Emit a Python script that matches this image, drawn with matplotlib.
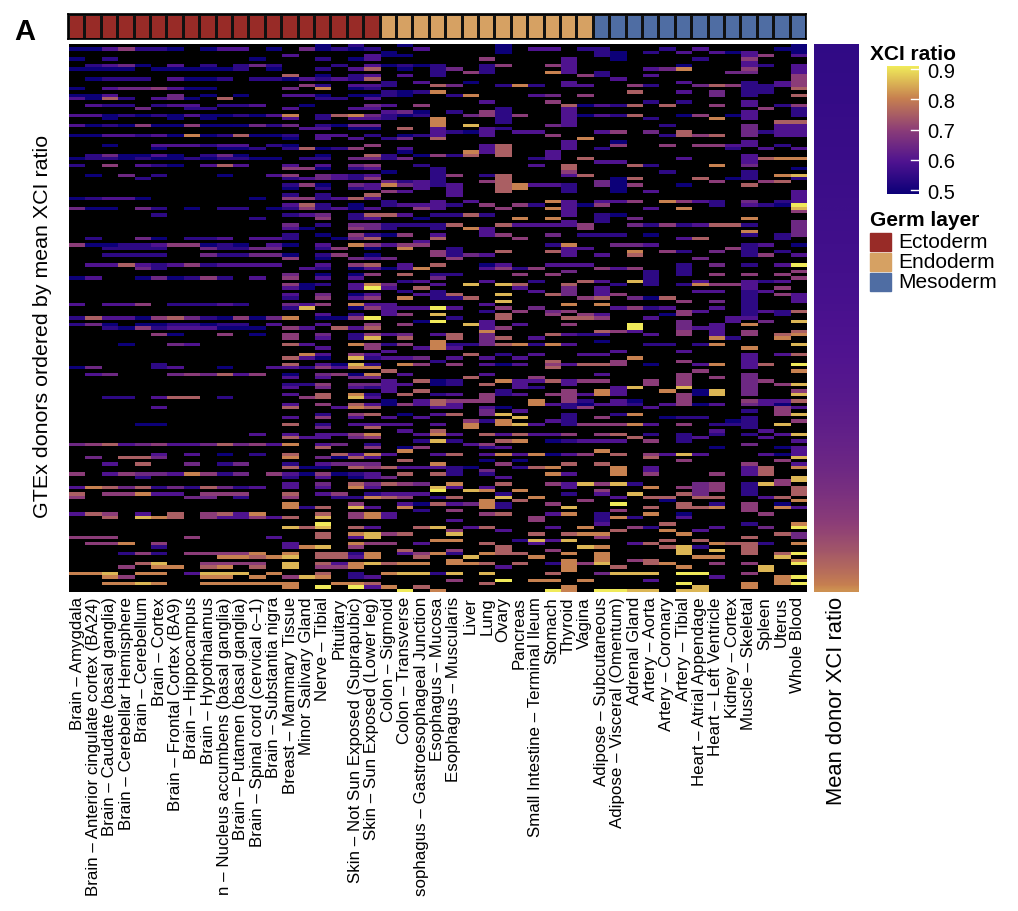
import matplotlib
matplotlib.use('Agg')
import matplotlib.pyplot as plt
from matplotlib.colors import LinearSegmentedColormap, ListedColormap
from matplotlib.patches import Rectangle
import numpy as np

plt.rcParams['font.family'] = ['Liberation Sans', 'DejaVu Sans']

# two labels are cut off on the left in the original panel, kept as they show there
tissues = ['Brain – Amygdala', 'Brain – Anterior cingulate cortex (BA24)',
           'Brain – Caudate (basal ganglia)', 'Brain – Cerebellar Hemisphere',
           'Brain – Cerebellum', 'Brain – Cortex', 'Brain – Frontal Cortex (BA9)',
           'Brain – Hippocampus', 'Brain – Hypothalamus',
           'n – Nucleus accumbens (basal ganglia)', 'Brain – Putamen (basal ganglia)',
           'Brain – Spinal cord (cervical c–1)', 'Brain – Substantia nigra',
           'Breast – Mammary Tissue', 'Minor Salivary Gland', 'Nerve – Tibial', 'Pituitary',
           'Skin – Not Sun Exposed (Suprapubic)', 'Skin – Sun Exposed (Lower leg)',
           'Colon – Sigmoid', 'Colon – Transverse', 'sophagus – Gastroesophageal Junction',
           'Esophagus – Mucosa', 'Esophagus – Muscularis', 'Liver', 'Lung', 'Ovary', 'Pancreas',
           'Small Intestine – Terminal Ileum', 'Stomach', 'Thyroid', 'Vagina',
           'Adipose – Subcutaneous', 'Adipose – Visceral (Omentum)', 'Adrenal Gland',
           'Artery – Aorta', 'Artery – Coronary', 'Artery – Tibial', 'Heart – Atrial Appendage',
           'Heart – Left Ventricle', 'Kidney – Cortex', 'Muscle – Skeletal', 'Spleen', 'Uterus',
           'Whole Blood']
germ_layer = [0] * 19 + [1] * 13 + [2] * 13
germ_names = ['Ectoderm', 'Endoderm', 'Mesoderm']
germ_colors = ['#982b27', '#d6a163', '#4f6da3']
ratio_ticks = [0.5, 0.6, 0.7, 0.8, 0.9]
n_donors = 220
n_rows = 165

# levels: . = no call, 1-9 = XCI ratio 0.50 ... 0.90
# ectoderm, one string per two donors: 13 brain tissues | 6 other tissues
ectoderm_bands = [
    "|..1.2.", "1135221.133.1|.41212", "|3....3", "1.2........1.|..2.13",
    ".2341.3.2.242|...2.3", "1111.111112.1|..2.36", "|6.1.23", ".1222.3112.22|132326",
    "|.52.33", "1.3445311....|4.7.12", "113...4.1.1..|331.11", "3162.341.6...|..22.3",
    ".322.233.223.|.1...4", "....4..22....|3...33", "3312121311213|7.2674", "..1...1.1....|3.2.33",
    "3121511511142|4.2144", "|.33.11", "1133231712611|2.33.2", "|1.3.3.",
    "..1..333233.2|1....5", ".....1...112.|26125.", ".241131.241..|..1..6", "1221211212211|.22.44",
    "2.5.321.363..|3.3.45", "|551.23", ".1.4.2...1..3|5.4323", "....2........|234325",
    "|251.43", "|1.2.23", "|2.2..6", "12331......1.|552363",
    "|362.1.", "411.42.1.22.1|252313", ".....2.......|234.26", "...........2.|..5.23",
    "|4.2.44", "|31..54", "|2.1.52", ".2..41.223.33|2..146",
    "51122355121.3|1.3.75", "..2222..42244|..25.1", "..2222..42244|1.25.1", "|5.1.43",
    ".336323523333|..3.56", "....42.......|.32.13", "|4.1.15", "13..141252.3.|5.3.3.",
    "|512.37", "|31..39", "|3.4.13", "|2.5.35",
    "3.335.22232..|435.73", "|28..15", "|..3.2.", "2633156421514|7.1159",
    "241.1122122.3|..3..5", "..2152333111.|53.636", ".....51..5.1.|5.4.25", "|5.3.28",
    "...1..43.....|63..75", "|..3..5", "|.73.53", "|631.82",
    ".....2.......|6.3182", "14...23..1..3|325377", ".34...454635.|1.4517", "|3.3.44",
    "|225.44", "|3.4.32", "|3.6.72", "..22.366.2...|.56.83",
    "|3.5.63", ".....3.......|6..376", "|..2.56", "|3.5.3.",
    "....11.......|6.2.33", "|..4..6", "...........3.|3.3357", "|633.45",
    "4563453346453|7.34.2", "|..6..5", ".....3.3.1.2.|6..637", ".4.664.......|7.4163",
    "..3.6..4.24..|2.3444", "|611.65", "5.354437524.5|315123", "....2........|2.3.13",
    "|3.4.64", "376462426423.|3.3.73", "6.55733.555..|6.35.2", "5......44.2..|5..227",
    "|7...5.", "|726.83", "365.3.6.5637.|..6.57", "..6.876.53353|6.8.57",
    "|..9...", "|868.63", "|..6.78", "555....5....3|..6.38",
    ".557.5.......|3...75", ".....2.......|378.5.", "...252.55557.|7.6627", ".........7767|8.6637",
    "....68..5555.|8.6378", "...5.77.67.6.|8.557.", "778.77.3888.7|..6.2.", "..75....77.7.|587.23",
    "..7787..77777|7..776", "|7.9.93",
]

# endoderm and mesoderm: donor rank (or first-last rank) : level
colon_sigmoid = ("3-5:1 9:1 15:2 17:2 19-21:2 25:3 27:3 29:2 30:2 38:2 45-46:2 51:1 55:4 57:7 59:5 63-65:2 "
                 "68:6 73-74:2 77:1 80:3 86:4 90:1 96:4 98:3 104:1 105-108:3 117:3 121:2 123:3 126:3 131:6 "
                 "135-139:3 143:1 145:1 150:3 153:3 164:1 165:3 170:6 174:4 176:6 180:3 182:6 188:3 190:3 "
                 "196:5 201:5 209:6 213:7 218:7")
colon_transverse = ("1:1 5:1 8:2 10:1 13:3 19-20:1 27:4 29:1 34:6 36:1 38:4 42:3 43:1 46:4 55:2 57:4 59:3 64:3 "
                    "68:3 72:2 77:5 80:5 82:7 88:3 90:3 92:6 95:2 99:2 102:7 106:3 108:5 112:5 116:4 118:6 "
                    "120:5 126:3 129:7 133:3 137:3 141:6 145:5 148:1 153:3 155:3 162:1 163:7 167:6 170:3 172:6 "
                    "176:5 180:3 182:5 185:3 186:7 197:6 203:6 205:3 209:7 213:8 219:9")
ge_junction = ("2:3 9:1 15:3 19:2 25:5 27:1 29:2 36:2 45:1 49:2 55:3 57-58:3 64:3 66:5 70:1 73:2 79:3 81:5 90:7 "
               "95:3 98:6 101:3 106:3 111:1 122:3 126:4 129:5 135:6 139:6 143:3 144:3 150:3 156:6 157:3 159:2 "
               "162:5 170:3 177:4 181:3 184:1 187:2 194:6 201:3 204:5 206:6 209:7 213:8 218:6")
eso_mucosa = ("9-12:2 17:6 19:7 30-32:7 34-36:3 38:6 44:5 50-56:2 63-66:3 68:2 72-74:2 76:3 78:6 83-85:5 89:6 "
              "92:2 94:4 97:3 99-102:2 106:9 109:8 111:9 117:3 119:7 121:7 122:7 127:2 135-137:1 141:2 143-144:6 "
              "146:3 149:3 153:3 155:6 157:7 159:8 164:3 168:7 170:3 172:6 178:8 179:9 182:2 184:6 194:8 199:7 "
              "205:7 212:2 219:7")
eso_muscularis = ("10:4 16:4 20:2 27:2 35:2 45:2 52:5 56-60:3 64:2 68:2 72:6 82-85:2 86:5 93:2 101:6 102:2 106:3 "
                  "110:2 117:6 118:6 120:2 122:3 126:3 129:5 135-137:2 141:3 143:5 144-146:3 149:6 156:3 159:2 "
                  "164:6 165:6 170-172:2 176:7 178:3 182:6 185:3 187:5 191:3 195:5 197:8 199:7 203:5 205:2 "
                  "207-209:7 213:8 215:5")
liver = ("11:5 15:1 21:7 28:4 32:8 35:1 43:7 45:6 63:3 68:6 74:7 84:4 96:8 102:6 113:8 121:2 124:6 134:6 143:5 "
         "151:5 152-154:7 161:3 170:1 179:8 184:4 194:3 206:8 208:7")
lung = ("6:5 9-11:2 23:3 27-29:5 34-36:3 41-43:3 53:2 55:5 65:5 69:2 74-76:3 84:3 89:1 90:3 95:3 104:3 107:2 "
        "111-114:3 115:7 117-121:4 126:3 129:3 132:3 136:6 140:5 142-143:5 146:3 147-149:4 151:2 156:6 161:5 "
        "162:2 164:3 167:1 171:4 173:2 178:3 179:7 183-186:7 189:5 194:6 201:6 204:7 208:6 212:8 216:6")
ovary = ("1-3:1 9:5 17:2 26-31:2 34:2 40-44:6 53-59:6 66:5 73:6 77:5 83:6 89:3 90:5 97:8 100:8 103:8 106:5 108:6 "
         "110:6 114:5 118:6 120:6 125:2 128:1 135:7 139:2 141:2 146:1 149:8 151-152:7 156:3 159:6 162:3 165:7 "
         "168:5 174:3 176:6 180:2 182:8 184-186:2 188:6 195:3 202-204:6 210:3 215:9")
pancreas = ("17:7 28:5 35:3 56-58:7 64:5 70:7 73:3 78:5 90:2 92:5 96:6 98:3 107:5 113:3 121:7 126:3 129:3 135-138:3 "
            "141:3 147:3 150:8 153:8 156-157:6 159:7 164:3 167:1 170:2 179:7 183:6 199:2 205:6 208:6")
small_intestine = ("2:3 16:2 20:3 35:3 46:2 49:3 56:5 57:3 65:2 73:3 90:5 95:2 99:3 106:4 118:3 121:2 125:3 134:5 "
                   "135:3 138:2 143-144:7 152:3 156:3 164:7 170:6 182:7 190-191:5 197:6 199:8 201:3 206:7 215:7")
stomach = ("2:3 9:5 11:7 20:4 23:5 33:4 36:5 43-46:3 57:3 63:7 66:7 70:7 72:3 76:4 80:2 83:6 89:3 92:5 100:6 107:4 "
           "109:5 116:6 121:7 127:6 129:5 130:6 135:6 141:5 145:3 151:3 157:3 159:1 165:1 170:7 172:7 176:5 184:5 "
           "189:3 194:3 199:3 203:5 209:2 213:6 215:7 219:9")
thyroid = ("6-11:3 15-17:3 25:6 26-32:3 39-42:3 48:6 50:6 51:5 53:3 56-59:2 63-68:3 71-73:3 80:7 82-84:3 89:3 91:4 "
           "97:6 98-101:4 105:7 107:5 110:6 113:5 117:3 120:3 128:3 135-137:3 139-143:5 145-146:2 148-152:2 156:5 "
           "159:2 164:3 168:6 172:3 176:3 178:3 181:2 186:8 188:7 197:6 199:8 204:7 207-211:7 218-219:7")
vagina = ("2:2 12:5 17:3 20:5 25:1 29:1 38:7 46:6 52:6 65:1 72:5 74:5 77:2 82:3 89:3 95:6 102:5 108:5 110:6 117:2 "
          "125:3 129:6 135:5 140:3 143:2 144:1 146:5 152:5 159:3 165:5 177:8 183:5 194:7 197:7 202:8 209:5 215:7")
adipose_sub = ("2-5:2 11-13:2 24:3 29:3 35:3 42:2 47:3 55-57:4 63:3 65:5 69-71:2 77:2 84:3 90:5 95:3 98-101:3 102:6 "
               "104:7 108:3 110:5 115:6 117:2 119:1 124:3 128:6 132:3 135:5 139-141:7 145:3 150:5 152:5 156:5 159:3 "
               "163:7 168:6 176:5 179:5 181:3 188-191:2 192:3 196:7 198:5 202:7 204-207:7 208:8 213:4 219:9")
adipose_visc = ("3-6:1 14:3 24:2 29:2 35:5 39:1 41:5 47:3 54-59:1 63:3 68:1 76:2 80:4 90:3 96:2 101:5 106:3 115:5 123:3 "
                "127-129:5 138-140:3 143-144:3 148:2 152:5 157:6 159:3 165:6 170-172:7 173:7 177:8 182:3 184:9 187:5 "
                "190:7 195:6 210:6 213:8 219:9")
adrenal = ("17:5 19:6 25:6 29:6 49:6 54:6 56:5 63:5 70:4 72:4 80:4 83:7 85:6 90:5 95:8 102:4 106:5 112-114:9 115:3 "
           "126:7 138:8 143:1 144:2 149:7 153:7 158:6 176:2 180:8 190:2 194:5 200:3 207:5 212:8 219:8")
aorta = ("3:2 10:3 13:3 16:2 23:2 30:2 35:4 49:2 59:3 66:3 73:2 77:1 81:3 91-96:2 102:1 106:2 110:3 116:3 121:2 129:1 "
         "135:5 137:5 146:3 152:3 156:2 159:5 164:5 166:6 170-172:3 173:5 178:7 182:6 186:6 189:7 194:2 201:6 "
         "207-209:6 213:8 215:3 219:8")
coronary = ("2:2 10:4 24:6 33:2 37:2 40:5 51:2 63:7 73:5 83:5 102:6 106:3 108:1 120:2 139:7 144:3 150:1 165:3 182:6 "
            "183:1 193:6 195:7 199:6 202:6 208:8 209:7")
tibial_artery = ("3:3 8:1 10:7 15:3 19:3 23:2 29:1 35:6 37:6 46:3 57:1 63:5 66:7 72:2 78:3 83:2 89-92:2 96:2 103:5 "
                 "107-109:5 111-114:4 115-117:5 123:3 127:5 133-136:5 138:8 140-143:5 145:5 150:2 152:5 156-159:2 "
                 "164:8 167:5 178:5 181:6 184:6 186:6 188:1 190:3 197:7 202-204:8 205:8 210:7 212:9 216:9 219:8")
atrial = ("2:3 6:2 16:4 29:5 36:5 40:5 54:6 63:3 72:3 78:6 86:4 95:3 96:7 99:3 107:3 114:3 120:2 128:3 131:5 "
          "139-141:1 144:1 150:2 158:3 164:3 176-180:4 182:6 186:6 195:3 199:6 202:2 206:7 213:9 218-219:8")
ventricle = ("3:3 16:6 19-21:4 25:5 30:7 36:6 41:5 49:7 55:5 63:2 65:2 72:6 83:4 89:4 92:5 96:5 99:3 103:4 106:3 "
             "113-117:3 118:7 121:7 128:7 134:5 139:8 141:8 144:3 152:2 155:3 157:2 162:1 172:3 173:5 176-179:5 "
             "182:6 184:2 186:7 194:3 201:7 203:8 206:7 209:5 214:3")
kidney = "3:1 11:4 16:5 28:1 41:3 42:2 54:1 73:6 82:5 96:5 110-111:3 118:2 151:1 153:2 201:6"
muscle = ("3-5:3 6:5 7-9:3 10:5 11:4 15-21:2 23-25:3 27-30:3 33-37:4 39-41:3 45-47:3 48-49:4 51-54:2 57:6 63:4 65:3 "
          "70:7 73:2 75:7 77:2 81-85:2 89:2 92-93:5 95-98:3 99-103:2 105-109:2 110:3 112:7 115:5 117:5 122:7 125-130:3 "
          "132-141:4 143:5 144:4 147:2 150-154:2 156:2 160:4 168:5 170-173:3 176-180:2 184-187:5 192:2 198:6 200-205:6 "
          "208:5 213:5 216:7 218:7")
spleen = ("5:5 9:2 17-19:2 26:5 35:2 42:3 46:6 55:5 64:2 80:3 85:5 95:2 99:3 107:3 111:4 128:6 135:5 143:3 144:3 155:3 "
          "158:3 164:3 170-172:6 177:8 182:3 189:5 194:4 201:2 210-211:8")
uterus = ("2:1 15-17:3 24:2 31:6 33-36:3 41:2 46:7 52:7 55:6 63:2 65:1 76-78:2 83:2 89:3 93:5 95:3 98:5 100:5 107-109:2 "
          "116:6 118:7 125:3 137:5 143:3 144:1 146-148:5 152:8 156:3 162:1 165:1 167:5 175-177:5 182:6 185:1 186:7 "
          "196:6 204:6 206:8 214-216:7")
whole_blood = ("0-3:1 5:3 9-11:3 13-16:5 18:6 20:6 24:5 26-28:2 31:6 33-36:3 42:3 46:7 50:1 52:8 54:2 59-63:3 65:9 66:8 "
               "67:5 71-76:4 80:1 85:3 89:9 91:5 94:5 100-103:3 107:6 111:8 115:6 117:7 121:8 124:6 128:9 131:7 136:8 "
               "139:5 140:8 143:6 146:3 149:8 151:5 157:8 159:3 162-164:3 166:8 168:3 170:7 174-175:8 178-180:6 183:7 "
               "186:3 192:7 194:9 196-198:4 201:7 204:3 205:9 207:7 209:9 214:9 217:9")
later_tissues = [colon_sigmoid, colon_transverse, ge_junction, eso_mucosa, eso_muscularis, liver, lung, ovary, pancreas,
                 small_intestine, stomach, thyroid, vagina, adipose_sub, adipose_visc, adrenal, aorta, coronary,
                 tibial_artery, atrial, ventricle, kidney, muscle, spleen, uterus, whole_blood]

mean_xci = [0.555, 0.556, 0.557, 0.558, 0.558, 0.559, 0.560, 0.560, 0.561, 0.561,
            0.562, 0.562, 0.563, 0.564, 0.564, 0.565, 0.565, 0.566, 0.566, 0.567,
            0.567, 0.568, 0.568, 0.569, 0.570, 0.570, 0.571, 0.571, 0.572, 0.573,
            0.573, 0.574, 0.575, 0.575, 0.576, 0.577, 0.577, 0.578, 0.579, 0.579,
            0.580, 0.581, 0.582, 0.582, 0.583, 0.584, 0.585, 0.586, 0.587, 0.588,
            0.589, 0.590, 0.591, 0.592, 0.593, 0.594, 0.595, 0.596, 0.597, 0.598,
            0.600, 0.601, 0.602, 0.604, 0.605, 0.607, 0.608, 0.610, 0.612, 0.613,
            0.615, 0.617, 0.619, 0.621, 0.623, 0.625, 0.627, 0.630, 0.632, 0.635,
            0.637, 0.640, 0.643, 0.646, 0.649, 0.652, 0.656, 0.660, 0.664, 0.668,
            0.672, 0.677, 0.682, 0.687, 0.692, 0.697, 0.703, 0.709, 0.715, 0.722,
            0.729, 0.736, 0.744, 0.752, 0.760, 0.769, 0.778, 0.788, 0.798, 0.815]

W, H = 1018, 912


def level_to_ratio(level):
    return 0.45 + int(level) * 0.05


def to_row(rank):
    return rank * n_rows // n_donors


def build_matrix():
    matrix = np.full((n_rows, len(tissues)), np.nan)
    for r, band in enumerate(ectoderm_bands):
        brain, other = band.split('|')
        for c, cell in enumerate(brain):
            if cell != '.':
                matrix[to_row(2 * r), c] = level_to_ratio(cell)
        for c, cell in enumerate(other):
            if cell != '.':
                matrix[to_row(2 * r), 13 + c] = level_to_ratio(cell)
    for c, calls in enumerate(later_tissues):
        for call in calls.split():
            ranks, level = call.split(':')
            first, _, last = ranks.partition('-')
            last = last or first
            matrix[to_row(int(first)):to_row(int(last)) + 1, 19 + c] = level_to_ratio(level)
    return matrix


def axes_px(x0, y0, x1, y1):
    return fig.add_axes([x0 / W, 1 - y1 / H, (x1 - x0) / W, (y1 - y0) / H])


xci_cmap = LinearSegmentedColormap.from_list(
    'xci', [(0, '#0c0078'), (0.25, '#4f1390'), (0.5, '#8c3d78'),
            (0.75, '#c78050'), (1, '#f0ea5a')])
xci_cmap.set_bad('black')

fig = plt.figure(figsize=(W / 100, H / 100), dpi=100, facecolor='white')

# germ layer strip
ax_top = axes_px(68, 15, 806, 40)
ax_top.pcolormesh(np.array([germ_layer]), cmap=ListedColormap(germ_colors), vmin=0, vmax=2,
                  edgecolors='#111111', linewidth=1.0)
ax_top.invert_yaxis()
ax_top.set_xticks([])
ax_top.set_yticks([])
for spine in ax_top.spines.values():
    spine.set_linewidth(1.2)

# main heatmap
ax = axes_px(69, 45, 806, 593)
ax.imshow(np.ma.masked_invalid(build_matrix()), aspect='auto', cmap=xci_cmap, vmin=0.5, vmax=0.9,
          interpolation='nearest')
ax.set_facecolor('black')
ax.set_yticks([])
ax.set_xticks(np.arange(len(tissues)))
ax.set_xticklabels(tissues, rotation=90, ha='center', va='top', fontsize=12.2)
ax.tick_params(axis='x', length=0, pad=3)
for spine in ax.spines.values():
    spine.set_visible(False)
fig.text(43 / W, 1 - 326 / H, 'GTEx donors ordered by mean XCI ratio', fontsize=15.4,
         rotation=90, ha='center', va='center')

# mean donor ratio
ax_mean = axes_px(814, 45, 859, 593)
ax_mean.imshow(np.array(mean_xci).reshape(-1, 1), aspect='auto', cmap=xci_cmap, vmin=0.5, vmax=0.9,
               interpolation='bilinear')
ax_mean.set_yticks([])
ax_mean.set_xticks([0])
ax_mean.set_xticklabels(['Mean donor XCI ratio'], rotation=90, ha='center', va='top', fontsize=15.8)
ax_mean.tick_params(axis='x', length=0, pad=3)
for spine in ax_mean.spines.values():
    spine.set_visible(False)

# colour legend
ax_cbar = axes_px(887, 67, 919, 195)
scale = np.linspace(0.5, 0.9, 128).reshape(-1, 1)
ax_cbar.imshow(scale, aspect='auto', origin='lower', cmap=xci_cmap, vmin=0.5, vmax=0.9,
               extent=[0, 1, 0.487, 0.91])
ax_cbar.set_xticks([])
ax_cbar.yaxis.tick_right()
ax_cbar.set_yticks(ratio_ticks)
ax_cbar.set_yticklabels([f'{t:.1f}' for t in ratio_ticks], fontsize=14.5)
ax_cbar.tick_params(axis='y', length=0, pad=6)
for t in ratio_ticks:
    ax_cbar.plot([0.75, 1], [t, t], color='white', lw=1)
ax_cbar.set_xlim(0, 1)
ax_cbar.set_ylim(0.487, 0.91)
for spine in ax_cbar.spines.values():
    spine.set_visible(False)

fig.text(870 / W, 1 - 54 / H, 'XCI ratio', fontsize=15, fontweight='bold', va='center')
fig.text(870 / W, 1 - 220 / H, 'Germ layer', fontsize=15, fontweight='bold', va='center')
for i, name in enumerate(germ_names):
    fig.add_artist(Rectangle((870 / W, 1 - (234 + 20 * i + 18) / H), 21 / W, 18 / H,
                             color=germ_colors[i], transform=fig.transFigure))
    fig.text(898 / W, 1 - (243 + 20 * i) / H, name, fontsize=15, va='center')

fig.text(14 / W, 1 - 32 / H, 'A', fontsize=21, fontweight='bold', va='center')

fig.savefig('out.png', dpi=100)
